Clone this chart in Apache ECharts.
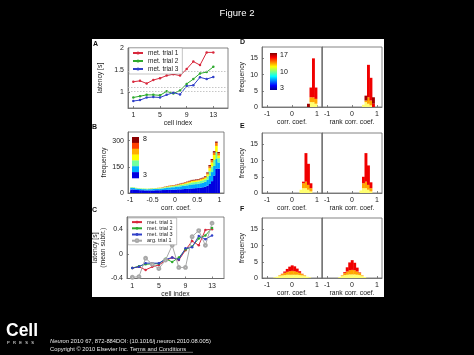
<!DOCTYPE html>
<html><head><meta charset="utf-8">
<script src="https://cdn.jsdelivr.net/npm/echarts@6/dist/echarts.min.js"></script>
<style>html,body{margin:0;padding:0;background:#000;}#c{width:474px;height:355px;}</style>
</head><body><div id="c"></div>
<script>
// ---------- DATA ----------
const cellIndex = [1,2,3,4,5,6,7,8,9,10,11,12,13];
// Panel A: latency [s]
const metTrial1 = [1.23,1.25,1.19,1.27,1.31,1.37,1.40,1.37,1.52,1.69,1.61,1.90,1.90];
const metTrial2 = [0.87,0.90,0.93,0.93,0.92,1.01,0.96,1.03,1.18,1.29,1.42,1.45,1.57];
const metTrial3 = [0.79,0.81,0.87,0.88,0.87,0.93,0.98,0.94,1.13,1.15,1.33,1.29,1.34];
// Panel C: latency, mean subtracted
const cMet1 = [-0.23,-0.21,-0.26,-0.21,-0.18,-0.11,-0.06,-0.10,0.06,0.21,0.14,0.39,0.40];
const cMet2 = [-0.23,-0.20,-0.17,-0.16,-0.16,-0.08,-0.13,-0.06,0.07,0.12,0.25,0.30,0.42];
const cMet3 = [-0.23,-0.21,-0.15,-0.15,-0.15,-0.09,-0.06,-0.09,0.09,0.11,0.29,0.24,0.30];
const cArg1 = [-0.38,-0.37,-0.07,-0.17,-0.24,-0.10,0.14,-0.22,-0.22,0.28,0.38,0.14,0.50];
// Tick labels
const cellTicks = [1,5,9,13];
const latencyTicksA = [1,1.5,2];
const latencyTicksC = [-0.4,0,0.4];
const corrTicksB = [-1,-0.5,0,0.5,1];
const freqTicksB = [0,150,300];
const corrTicksDEF = [-1,0,1];
const freqTicksDEF = [0,5,10,15];
const colorbarB = ['8','3'];
const colorbarD = ['17','10','3'];
// Panel B: stacked histogram (layer tops), bin width 0.05
const bCenters = [-0.975,-0.925,-0.875,-0.825,-0.775,-0.725,-0.675,-0.625,-0.575,-0.525,-0.475,-0.425,-0.375,-0.325,-0.275,-0.225,-0.175,-0.125,-0.075,-0.025,0.025,0.075,0.125,0.175,0.225,0.275,0.325,0.375,0.425,0.475,0.525,0.575,0.625,0.675,0.725,0.775,0.825,0.875,0.925,0.975];
const bBlue   = [20,20,18,17,16,16,15,15,15,15,15,16,16,16,17,17,18,18,19,19,20,21,21,22,23,24,25,26,27,28,29,31,33,36,42,52,68,100,140,140];
const bLight  = [30,29,26,24,23,22,22,21,22,22,23,23,24,25,26,28,30,31,33,33,35,37,38,40,42,44,46,49,50,51,53,56,59,64,76,98,120,155,195,175];
const bGreen  = [33,32,29,27,26,25,25,24,25,25,26,26,27,28,30,32,35,36,38,39,41,44,46,48,51,54,57,61,62,64,66,70,73,79,95,125,152,190,235,200];
const bYellow = [34,33,30,28,27,26,26,25,26,26,27,27,29,30,31,35,37,39,42,42,44,48,50,53,56,60,63,68,69,71,73,77,80,87,106,142,175,218,270,215];
const bOrange = [34,33,30,28,27,26,26,25,26,27,27,28,30,31,32,36,39,41,44,45,46,50,53,56,60,64,67,72,73,75,77,81,85,92,113,153,188,232,288,228];
const bTotal  = [34,33,30,28,27,26,26,25,26,27,27,28,30,31,33,37,40,42,45,46,48,52,55,58,62,66,70,75,76,78,80,84,88,96,118,160,195,240,295,235];
// Panels D-F: stacked histograms (layer tops), bin width 0.1
const dLeftCenters = [0.65,0.75,0.85,0.95];
const dLeftYellow = [0,1.5,1.5,1];
const dLeftOrange = [0,3,3,2.5];
const dLeftRed    = [0,6,15,6];
const dLeftTotal  = [1,6,15,6];
const dRightCenters = [0.45,0.55,0.65,0.75,0.85];
const dRightYellow = [0.7,1.5,1,0.5,0];
const dRightOrange = [0.7,2,3,2,0];
const dRightRed    = [0.7,2,13,9,1];
const dRightTotal  = [0.7,3.5,13,9,3];
const eLeftCenters = [0.35,0.45,0.55,0.65,0.75];
const eLeftYellow = [1,1.5,1.5,1,0.5];
const eLeftOrange = [1,3,3.5,2.5,1.5];
const eLeftRed    = [1,3.5,12.3,9,3];
const eRightCenters = [0.35,0.45,0.55,0.65,0.75];
const eRightYellow = [0.8,1.5,1.5,1,0.5];
const eRightOrange = [0.8,3,3.5,2.5,1.5];
const eRightRed    = [0.8,5,12.3,8.5,3.3];
const fLeftCenters = [-0.7,-0.6,-0.5,-0.4,-0.3,-0.2,-0.1,0,0.1,0.2,0.3,0.4,0.5,0.6,0.7];
const fLeftYellow = [0.2,0.4,0.6,0.8,0.9,1.0,1.0,1.0,1.0,1.0,0.9,0.8,0.6,0.4,0.2];
const fLeftOrange = [0.2,0.4,0.8,1.2,1.6,1.9,2.1,2.2,2.1,1.9,1.6,1.2,0.8,0.4,0.2];
const fLeftRed    = [0.2,0.4,0.8,1.3,2.0,2.8,3.5,3.9,3.6,2.9,2.1,1.3,0.8,0.4,0.2];
const fRightCenters = [-0.5,-0.4,-0.3,-0.2,-0.1,0,0.1,0.2,0.3,0.4,0.5];
const fRightYellow = [0.3,0.6,0.9,1.0,1.1,1.1,1.1,1.0,0.9,0.6,0.3];
const fRightOrange = [0.3,0.8,1.5,2.0,2.4,2.5,2.4,2.0,1.5,0.8,0.3];
const fRightRed    = [0.3,0.8,1.8,3.3,4.8,5.5,4.7,3.2,1.7,0.8,0.3];

// ---------- STYLE ----------
const F = '"Liberation Sans", Arial, sans-serif';
const RED = '#d8283c', GREEN = '#2eaa2e', BLUE = '#3040c8', GRAY = '#a8a8a8';
const bColors = ['#0000e0','#00a8ff','#70ffa0','#ffff00','#ff8000','#8b0000'];
const dColors = ['#ffff70','#ffa500','#f00000','#a00000'];
const AX = '#666';

const chart = echarts.init(document.getElementById('c'), null, {renderer:'canvas'});

function grid(left, top, width, height) {
  return {left, top, width, height, show:true, backgroundColor:'#fff', borderColor:AX, borderWidth:0.8, containLabel:false, outerBoundsMode:'none'};
}
function xAx(gi, min, max, ticks, name) {
  return {type:'value', gridIndex:gi, min, max, name, nameLocation:'middle', nameGap:12,
    nameTextStyle:{fontSize:6.8, color:'#222', fontFamily:F},
    axisLine:{show:true, onZero:false, lineStyle:{color:AX, width:0.8}},
    splitLine:{show:false},
    axisTick:{show:true, inside:true, length:2, customValues:ticks, lineStyle:{color:AX, width:0.8}},
    axisLabel:{show:true, customValues:ticks, fontSize:7, color:'#222', margin:4, fontFamily:F}};
}
function yAx(gi, min, max, ticks, name, gap, showLabels) {
  return {type:'value', gridIndex:gi, min, max, name, nameLocation:'middle', nameGap:gap, nameRotate:90,
    nameTextStyle:{fontSize:6.8, color:'#222', fontFamily:F, lineHeight:8},
    axisLine:{show:true, onZero:false, lineStyle:{color:AX, width:0.8}},
    splitLine:{show:false},
    axisTick:{show:showLabels, inside:true, length:2, customValues:ticks, lineStyle:{color:AX, width:0.8}},
    axisLabel:{show:showLabels, customValues:ticks, fontSize:7, color:'#222', margin:4, fontFamily:F}};
}
function rectRender(params, api) {
  const c = api.value(0), y0 = api.value(1), y1 = api.value(2), w = api.value(3);
  if (!(y1 > y0)) return;
  const a = api.coord([c - w/2, y1]);
  const b = api.coord([c + w/2, y0]);
  return {type:'rect', shape:{x:a[0], y:a[1], width:b[0]-a[0]+0.4, height:b[1]-a[1]}, style:{fill:api.visual('color')}};
}
function histLayers(ax, centers, width, layerTops, colors) {
  const out = [];
  let prev = centers.map(() => 0);
  layerTops.forEach((tops, k) => {
    const data = centers.map((c, i) => [c, prev[i], Math.max(tops[i], prev[i]), width]);
    out.push({type:'custom', xAxisIndex:ax, yAxisIndex:ax, renderItem:rectRender, data,
      itemStyle:{color:colors[k]}, encode:{x:0, y:[1,2]}, silent:true, animation:false});
    prev = data.map(d => d[2]);
  });
  return out;
}
function lineSeries(ax, name, vals, color, symbol, size) {
  return {type:'line', name, xAxisIndex:ax, yAxisIndex:ax, data:cellIndex.map((c,i)=>[c, vals[i]]),
    symbol, symbolSize:size, showSymbol:true, lineStyle:{color, width:1}, itemStyle:{color, borderWidth:symbol==='emptyCircle'?0.7:0},
    animation:false, silent:true};
}
const meanLine = {silent:true, symbol:['none','none'], label:{show:false}, animation:false,
  lineStyle:{color:'#b8b8b8', type:[1.5,1.5], width:0.8}, data:[{type:'average'}]};

const series = [];
['met. trial 1','met. trial 2','met. trial 3'].forEach((n, k) => {
  const s = lineSeries(0, n, [metTrial1, metTrial2, metTrial3][k], [RED,GREEN,BLUE][k], 'circle', 2.5);
  s.markLine = meanLine;
  series.push(s);
});
series.push(...histLayers(1, bCenters, 0.05, [bBlue,bLight,bGreen,bYellow,bOrange,bTotal], bColors));
series.push(lineSeries(2, 'met. trial 1', cMet1, RED, 'circle', 2.5));
series.push(lineSeries(2, 'met. trial 2', cMet2, GREEN, 'circle', 2.5));
series.push(lineSeries(2, 'met. trial 3', cMet3, BLUE, 'circle', 2.5));
series.push(lineSeries(2, 'arg. trial 1', cArg1, GRAY, 'emptyCircle', 2.8));
series.push(...histLayers(3, dLeftCenters, 0.1, [dLeftYellow,dLeftOrange,dLeftRed,dLeftTotal], dColors));
series.push(...histLayers(4, dRightCenters, 0.1, [dRightYellow,dRightOrange,dRightRed,dRightTotal], dColors));
series.push(...histLayers(5, eLeftCenters, 0.1, [eLeftYellow,eLeftOrange,eLeftRed], dColors));
series.push(...histLayers(6, eRightCenters, 0.1, [eRightYellow,eRightOrange,eRightRed], dColors));
series.push(...histLayers(7, fLeftCenters, 0.1, [fLeftYellow,fLeftOrange,fLeftRed], dColors));
series.push(...histLayers(8, fRightCenters, 0.1, [fRightYellow,fRightOrange,fRightRed], dColors));

const grids = [
  grid(128, 48, 100, 60),   // A
  grid(128, 132, 96, 61),   // B
  grid(127, 217, 97, 61.5), // C
  grid(262, 47, 60, 60), grid(322, 47, 60, 60),     // D
  grid(262, 133, 60, 60), grid(322, 133, 60, 60),   // E
  grid(262, 218, 60, 60), grid(322, 218, 60, 60)    // F
];
const xAxes = [
  xAx(0, 0.2, 15.2, cellTicks, 'cell index'),
  xAx(1, -1.05, 1.1, corrTicksB, 'corr. coef.'),
  xAx(2, 0.2, 14.8, cellTicks, 'cell index'),
  xAx(3, -1.2, 1.2, corrTicksDEF, 'corr. coef.'), xAx(4, -1.2, 1.2, corrTicksDEF, 'rank corr. coef.'),
  xAx(5, -1.2, 1.2, corrTicksDEF, 'corr. coef.'), xAx(6, -1.2, 1.2, corrTicksDEF, 'rank corr. coef.'),
  xAx(7, -1.2, 1.2, corrTicksDEF, 'corr. coef.'), xAx(8, -1.2, 1.2, corrTicksDEF, 'rank corr. coef.')
];
const yAxes = [
  yAx(0, 0.63, 2, latencyTicksA, 'latency [s]', 24, true),
  yAx(1, 0, 350, freqTicksB, 'frequency', 17, true),
  yAx(2, -0.4, 0.6, latencyTicksC, 'latency [s]\n(mean subtr.)', 15, true),
  yAx(3, 0, 18.5, freqTicksDEF, 'frequency', 15, true), yAx(4, 0, 18.5, freqTicksDEF, '', 0, false),
  yAx(5, 0, 18.5, freqTicksDEF, 'frequency', 15, true), yAx(6, 0, 18.5, freqTicksDEF, '', 0, false),
  yAx(7, 0, 18.5, freqTicksDEF, 'frequency', 15, true), yAx(8, 0, 18.5, freqTicksDEF, '', 0, false)
];

const legendCommon = {show:true, orient:'vertical', itemGap:0, itemWidth:10, selectedMode:false,
  borderColor:'#888', borderWidth:0.5, backgroundColor:'#fff', z:10};
const legends = [
  Object.assign({}, legendCommon, {data:['met. trial 1','met. trial 2','met. trial 3'], left:129, top:48,
    itemHeight:4, padding:[1,4,1,3], textStyle:{fontSize:6.5, color:'#222', fontFamily:F, lineHeight:8}}),
  Object.assign({}, legendCommon, {data:['met. trial 1','met. trial 2','met. trial 3','arg. trial 1'], left:128, top:218,
    itemHeight:3.5, padding:[1,4,1,3], textStyle:{fontSize:5.5, color:'#222', fontFamily:F, lineHeight:6.2}})
];

const txt = (x, y, text, size, opts={}) => Object.assign({type:'text', z:20,
  style:Object.assign({x, y, text, fill:'#111', fontSize:size, fontFamily:F, align:'left', verticalAlign:'middle'}, opts.style||{})}, opts.el||{});

const graphics = [
  {type:'rect', z:-10, shape:{x:92, y:39, width:292, height:258}, style:{fill:'#fff'}},
  txt(237, 13, 'Figure 2', 9.5, {style:{fill:'#fff', align:'center'}}),
  txt(93, 44, 'A', 7, {style:{fontWeight:'bold'}}),
  txt(92, 127, 'B', 7, {style:{fontWeight:'bold'}}),
  txt(92, 210.5, 'C', 7, {style:{fontWeight:'bold'}}),
  txt(240, 42.5, 'D', 7, {style:{fontWeight:'bold'}}),
  txt(240, 126, 'E', 7, {style:{fontWeight:'bold'}}),
  txt(240, 209, 'F', 7, {style:{fontWeight:'bold'}}),
  // colorbar D (jet)
  {type:'rect', z:20, shape:{x:270, y:53, width:7, height:37}, style:{fill:new echarts.graphic.LinearGradient(0,0,0,1,[
    {offset:0, color:'#800000'},{offset:0.12, color:'#ff0000'},{offset:0.37, color:'#ffff00'},
    {offset:0.5, color:'#80ff80'},{offset:0.63, color:'#00ffff'},{offset:0.88, color:'#0000ff'},{offset:1, color:'#000090'}])}},
  txt(280, 55, colorbarD[0], 7),
  txt(280, 72, colorbarD[1], 7),
  txt(280, 88.5, colorbarD[2], 7),
  txt(143, 139, colorbarB[0], 7),
  txt(143, 175, colorbarB[1], 7),
  // footer
  txt(6, 331, 'Cell', 17.5, {style:{fill:'#fff', fontWeight:'bold'}}),
  txt(7, 342.5, 'P   R   E   S   S', 4, {style:{fill:'#fff'}}),
  txt(50, 341.7, '{i|Neuron} 2010 67, 872-884DOI: (10.1016/j.neuron.2010.08.005)', 5.8,
    {style:{fill:'#e8e8e8', rich:{i:{fontStyle:'italic', fontSize:5.8, fill:'#e8e8e8', fontFamily:F}}}}),
  txt(50, 349, 'Copyright © 2010 Elsevier Inc. Terms and Conditions', 5.8, {style:{fill:'#e8e8e8'}}),
  {type:'line', z:20, shape:{x1:137, y1:352.3, x2:193, y2:352.3}, style:{stroke:'#ccc', lineWidth:0.5}}
];
// colorbar B (discrete bands)
const bandCols = ['#8b0000','#ff4000','#ffb000','#ffff00','#70ffa0','#00b0ff','#0000e0'];
bandCols.forEach((col, k) => graphics.push({type:'rect', z:20,
  shape:{x:132, y:137 + k*41/7, width:7, height:41/7 + 0.3}, style:{fill:col}}));

chart.setOption({
  backgroundColor:'#000',
  animation:false,
  grid:grids, xAxis:xAxes, yAxis:yAxes, legend:legends, series, graphic:graphics
});
</script>
</body></html>
